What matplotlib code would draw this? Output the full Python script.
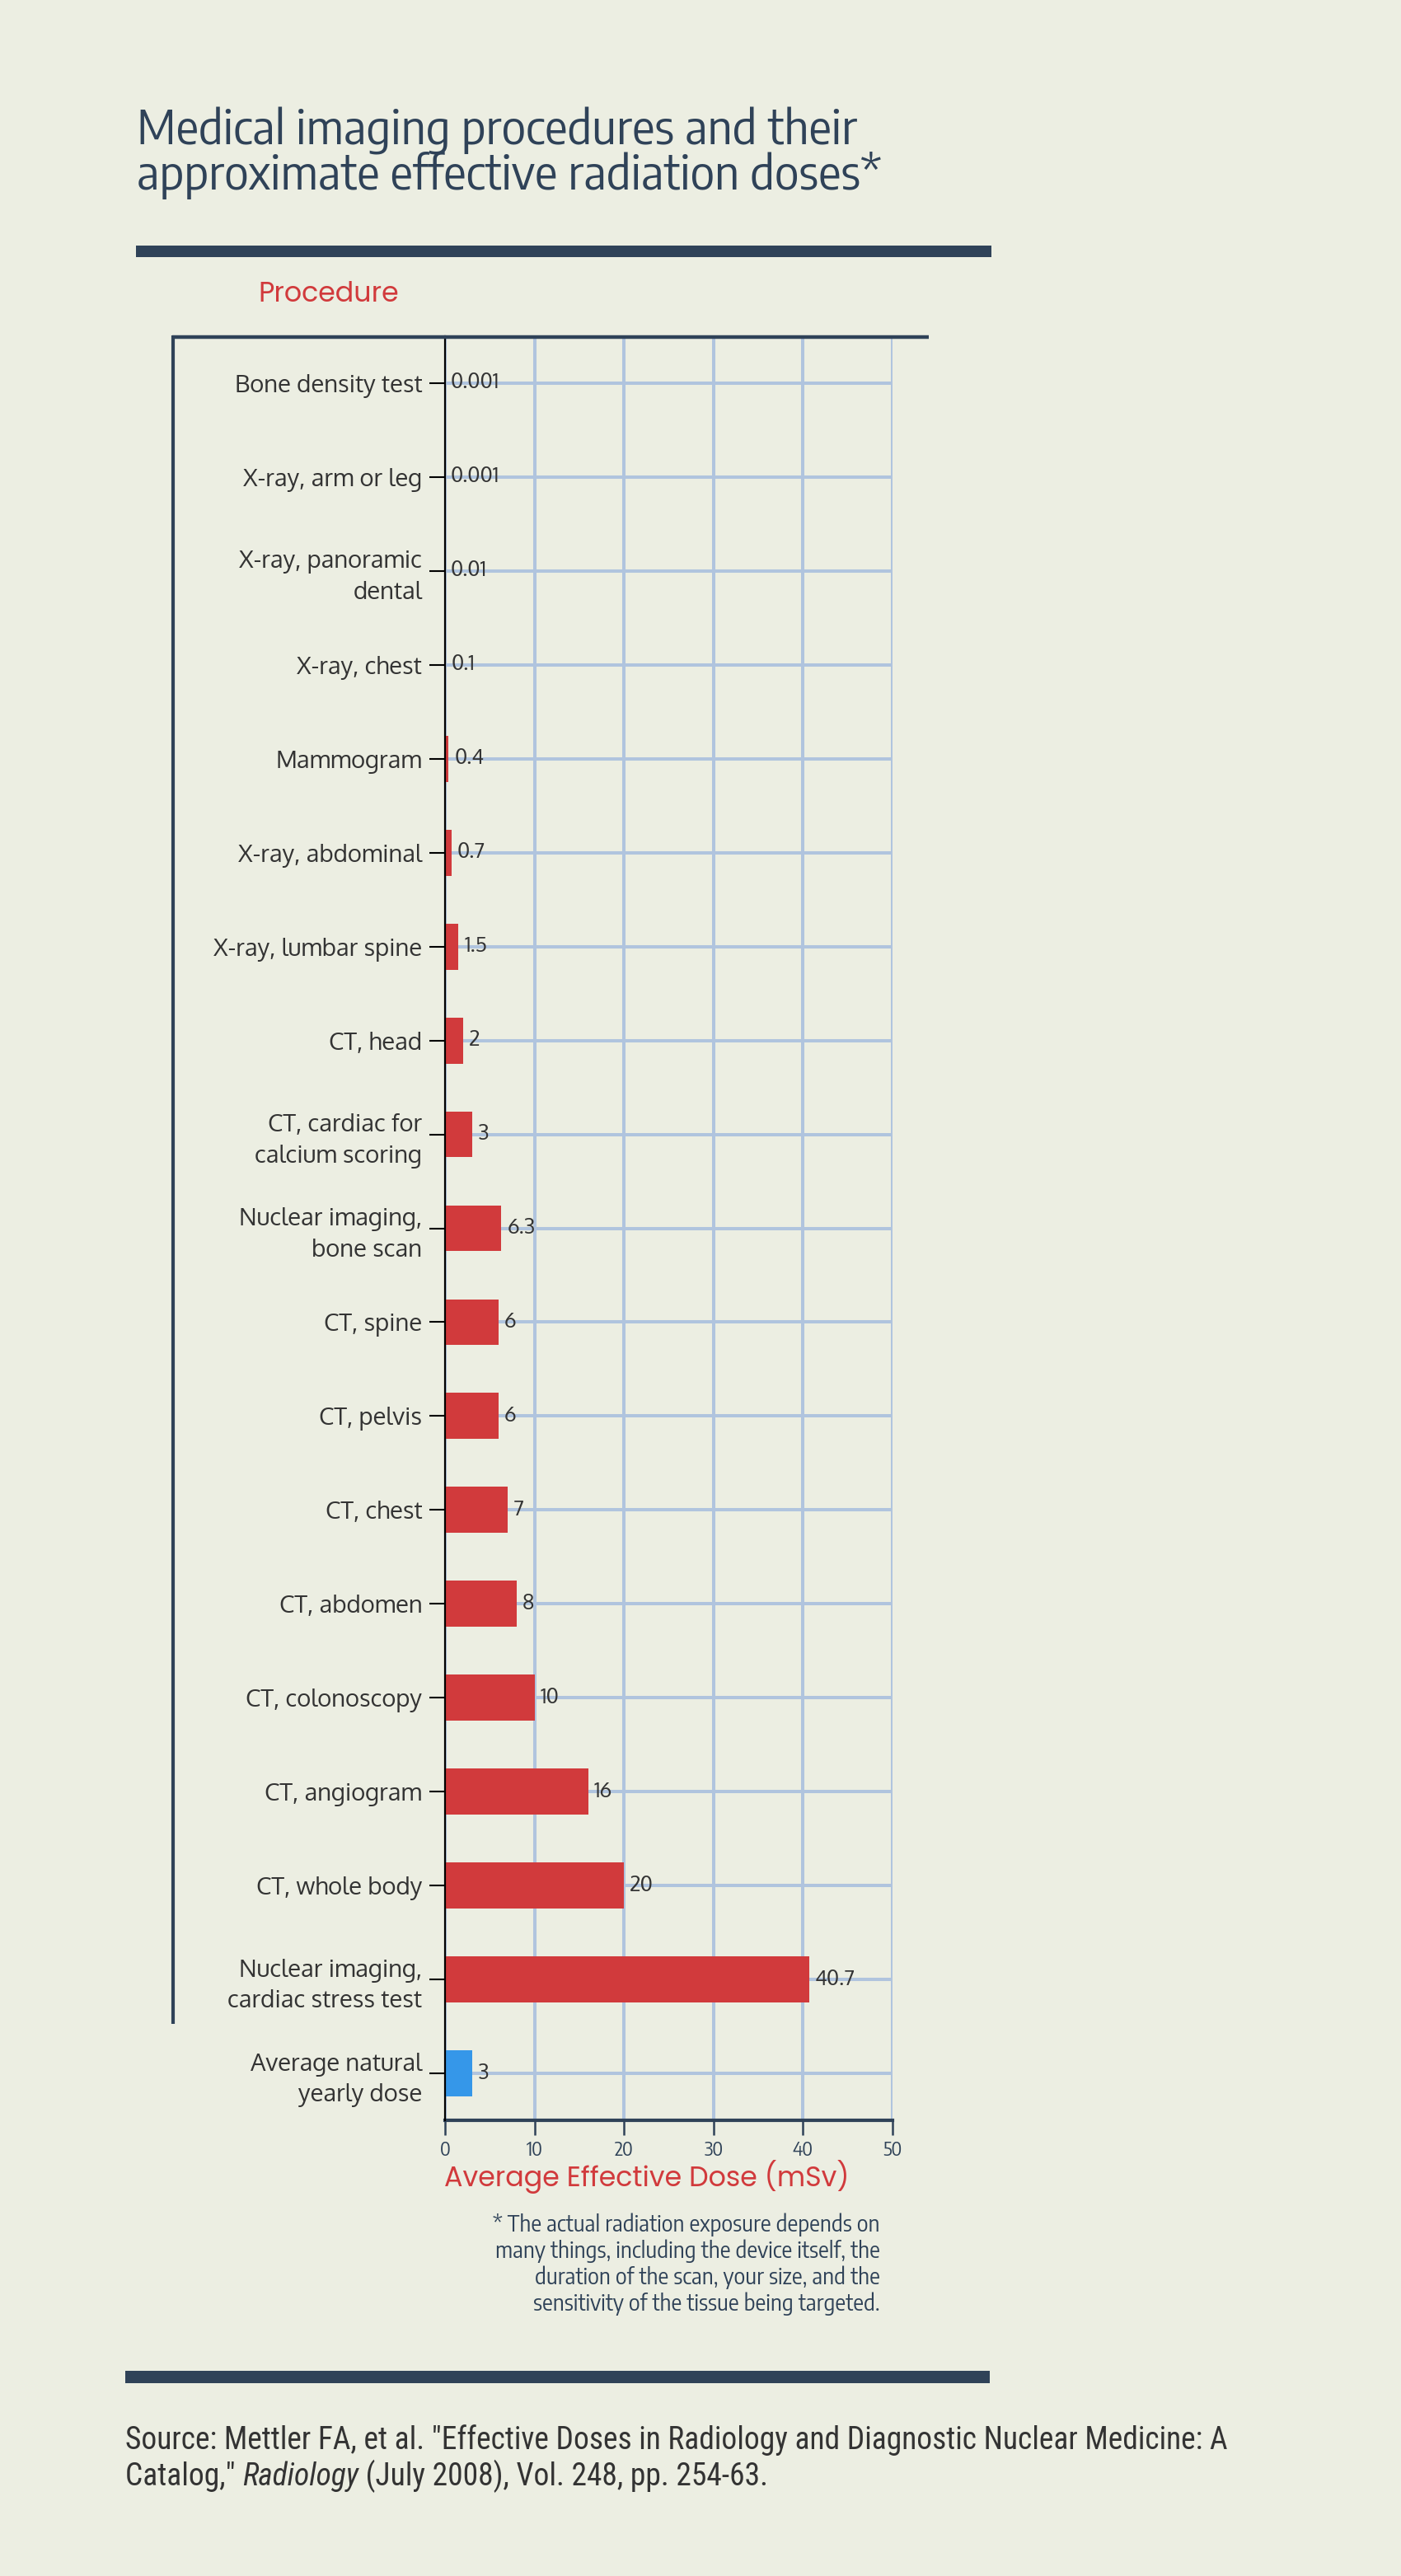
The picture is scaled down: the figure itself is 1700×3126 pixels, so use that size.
import matplotlib
matplotlib.use("Agg")
import matplotlib.pyplot as plt
from matplotlib import font_manager
from matplotlib.patches import Rectangle
from matplotlib.lines import Line2D

# ----- data -----
procedures = [
    "Bone density test",
    "X-ray, arm or leg",
    "X-ray, panoramic\ndental",
    "X-ray, chest",
    "Mammogram",
    "X-ray, abdominal",
    "X-ray, lumbar spine",
    "CT, head",
    "CT, cardiac for\ncalcium scoring",
    "Nuclear imaging,\nbone scan",
    "CT, spine",
    "CT, pelvis",
    "CT, chest",
    "CT, abdomen",
    "CT, colonoscopy",
    "CT, angiogram",
    "CT, whole body",
    "Nuclear imaging,\ncardiac stress test",
    "Average natural\nyearly dose",
]
doses = [0.001, 0.001, 0.01, 0.1, 0.4, 0.7, 1.5, 2, 3, 6.3, 6, 6, 7, 8, 10, 16, 20, 40.7, 3]
is_reference = [False] * 18 + [True]
x_ticks = [0, 10, 20, 30, 40, 50]

title_lines = ["Medical imaging procedures and their",
               "approximate effective radiation doses*"]
footnote_lines = ["* The actual radiation exposure depends on",
                  "many things, including the device itself, the",
                  "duration of the scan, your size, and the",
                  "sensitivity of the tissue being targeted."]

# ----- style -----
BG = "#eceee2"
NAVY = "#2f4258"
RED = "#d13a3c"
BLUE = "#3597e9"
GRID = "#b0c4de"
TEXT = "#333333"

installed = {f.name for f in font_manager.fontManager.ttflist}


def pick(*names):
    for n in names:
        if n in installed:
            return n
    return "DejaVu Sans"


TITLE_FONT = pick("Encode Sans Semi Condensed", "Encode Sans Condensed", "Fira Sans Condensed")
TICK_FONT = pick("Encode Sans Condensed", "Fira Sans Condensed", "Barlow Condensed")
NOTE_FONT = pick("Encode Sans Semi Condensed", "Encode Sans Condensed", "Fira Sans Condensed")
SOURCE_FONT = pick("Roboto Condensed", "Barlow Semi Condensed", "Fira Sans Condensed")
LABEL_FONT = pick("Oxygen", "Open Sans")
ACCENT_FONT = pick("Poppins", "DejaVu Sans")

W, H = 1700, 3126


def fx(px):
    return px / W


def fy(py):
    return 1 - py / H


fig = plt.figure(figsize=(17, 31.26), dpi=100, facecolor=BG)

# title
for i, line in enumerate(title_lines):
    fig.text(fx(166), fy(175 + 55 * i), line, family=TITLE_FONT, fontsize=41,
             color=NAVY, va="baseline", ha="left")

# thick rules
fig.patches.append(Rectangle((fx(165), fy(312)), fx(1203) - fx(165), fy(298) - fy(312),
                             transform=fig.transFigure, color=NAVY, lw=0))
fig.patches.append(Rectangle((fx(152), fy(2892)), fx(1201) - fx(152), fy(2877) - fy(2892),
                             transform=fig.transFigure, color=NAVY, lw=0))

fig.text(fx(313), fy(366), "Procedure", family=ACCENT_FONT, fontsize=24,
         color=RED, va="baseline", ha="left")

# frame lines
fig.add_artist(Line2D([fx(209), fx(1127)], [fy(408.5), fy(408.5)], transform=fig.transFigure,
                      color=NAVY, lw=3.2, solid_capstyle="butt", zorder=5))
fig.add_artist(Line2D([fx(209.5), fx(209.5)], [fy(407), fy(2456)], transform=fig.transFigure,
                      color=NAVY, lw=3, solid_capstyle="butt", zorder=5))

# ----- chart -----
ax = fig.add_axes([fx(540), fy(2573), fx(1083) - fx(540), fy(408) - fy(2573)])
ax.set_facecolor(BG)

ypos = list(range(len(procedures)))
colors = [BLUE if r else RED for r in is_reference]
ax.barh(ypos, doses, height=0.49, color=colors, zorder=3)

for y, v in zip(ypos, doses):
    ax.annotate(f"{v:g}", xy=(v, y), xytext=(5, 0), textcoords="offset points",
                ha="left", va="center", family=LABEL_FONT, fontsize=18, color=TEXT, zorder=4)

ax.set_xlim(0, 50)
ax.set_ylim(len(procedures) - 0.5, -0.5)
ax.set_xticks(x_ticks)
ax.set_yticks(ypos)
ax.set_yticklabels(procedures, family=LABEL_FONT, fontsize=21, color=TEXT)
for t in ax.get_yticklabels():
    t.set_linespacing(1.4)
for t in ax.get_xticklabels():
    t.set_family(TICK_FONT)
    t.set_fontsize(17)
    t.set_color(NAVY)

ax.tick_params(axis="y", length=14, width=1.5, color="black", pad=6)
ax.tick_params(axis="x", length=13, width=1.8, color=NAVY, pad=4)

ax.grid(True, color=GRID, lw=2.9, zorder=0)
ax.set_axisbelow(True)

ax.spines["top"].set_visible(False)
ax.spines["right"].set_visible(False)
ax.spines["left"].set_color("black")
ax.spines["left"].set_linewidth(1.6)
ax.spines["left"].set_zorder(3.5)
ax.spines["bottom"].set_color(NAVY)
ax.spines["bottom"].set_linewidth(3)

fig.text(fx(539), fy(2653), "Average Effective Dose (mSv)", family=ACCENT_FONT, fontsize=24,
         color=RED, va="baseline", ha="left")

# footnote
for i, line in enumerate(footnote_lines):
    fig.text(fx(1068), fy(2708 + 32 * i), line, family=NOTE_FONT, fontsize=19,
             color=NAVY, va="baseline", ha="right")

# source
fig.text(fx(152), fy(2972),
         'Source: Mettler FA, et al. "Effective Doses in Radiology and Diagnostic Nuclear Medicine: A',
         family=SOURCE_FONT, fontsize=27, color=TEXT, va="baseline", ha="left")
t1 = fig.text(fx(152), fy(3016), 'Catalog," ', family=SOURCE_FONT, fontsize=27, color=TEXT,
              va="baseline", ha="left")
t2 = fig.text(0, 0, "Radiology", family=SOURCE_FONT, fontsize=27, color=TEXT, style="italic",
              va="baseline", ha="left")
t3 = fig.text(0, 0, " (July 2008), Vol. 248, pp. 254-63.", family=SOURCE_FONT, fontsize=27,
              color=TEXT, va="baseline", ha="left")

fig.canvas.draw()
r = fig.canvas.get_renderer()
bb1 = t1.get_window_extent(r)
t2.set_position((bb1.x1 / W, fy(3016)))
fig.canvas.draw()
bb2 = t2.get_window_extent(r)
t3.set_position((bb2.x1 / W, fy(3016)))

fig.savefig("out.png", dpi=100, facecolor=BG)
